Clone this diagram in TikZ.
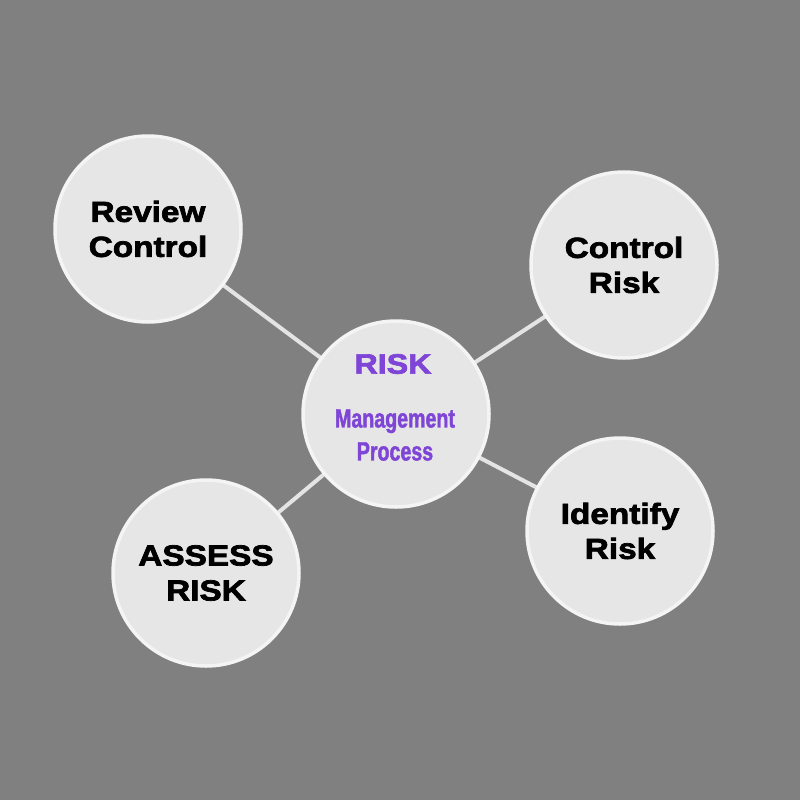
\documentclass[tikz,border=0pt]{standalone}
\usepackage{fontspec}
\usetikzlibrary{backgrounds}
\setmainfont{Liberation Sans}
\newfontfamily\heavy[FakeBold=2.5,FakeStretch=1.15]{Liberation Sans Bold}
\newfontfamily\narrowf[FakeBold=1.5,FakeStretch=0.74]{Liberation Sans Bold}
\definecolor{bg}{HTML}{808080}
\definecolor{disc}{HTML}{E6E6E6}
\definecolor{rim}{HTML}{F4F4F4}
\definecolor{link}{HTML}{E4E4E4}
\definecolor{riskpurple}{HTML}{7E45D6}
\tikzset{
  bubble/.style={circle, fill=disc, draw=rim, line width=3.5pt, minimum size=186pt, inner sep=0pt, align=center, text=black, font=\heavy\fontsize{29}{35}\selectfont},
  linkline/.style={draw=link, line width=4pt}
}
\begin{document}
\begin{tikzpicture}[x=1pt,y=-1pt]
\useasboundingbox (0,0) rectangle (800,800);
\node[bubble] (center) at (396,414) {};
\node[bubble] (review) at (148,229) {Review\\Control};
\node[bubble] (control) at (624,265) {Control\\Risk};
\node[bubble] (identify) at (620,531) {Identify\\Risk};
\node[bubble] (assess) at (206,573) {ASSESS\\RISK};
\node[text=riskpurple, font=\heavy\fontsize{28}{30}\selectfont] (risk) at (393,364) {RISK};
\node[text=riskpurple, font=\narrowf\fontsize{26.5}{33}\selectfont, align=center] (mgmt) at (395,435) {Management\\Process};
\begin{scope}[on background layer]
\fill[bg] (0,0) rectangle (800,800);
\path[linkline] (review.center) -- (center.center);
\path[linkline] (control.center) -- (center.center);
\path[linkline] (identify.center) -- (center.center);
\path[linkline] (assess.center) -- (center.center);
\end{scope}
\end{tikzpicture}
\end{document}
